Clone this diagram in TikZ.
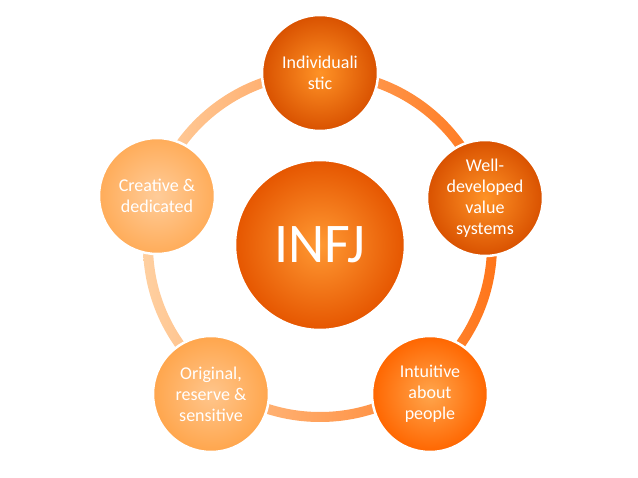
\documentclass[tikz,border=0pt]{standalone}
\usepackage{fontspec}
\setmainfont{Carlito}
\begin{document}
\begin{tikzpicture}[x=1pt, y=-1pt,
  main/.style = {draw=white, line width=2.5pt, circle, minimum size=116pt, inner sep=0pt,
    text=white, align=center, font=\fontsize{18}{21}\selectfont},
  hub/.style = {draw=white, line width=2.5pt, circle, minimum size=170pt,
    text=white, font=\fontsize{56}{60}\selectfont}]
\useasboundingbox (0,0) rectangle (638,478);
\shade[left color=orange!30!white!90!orange, right color=orange!80!red!90!white, even odd rule]
  (320,245) circle (177) (320,245) circle (167);
\node[hub, inner color=orange!80!white, outer color=orange!75!red!90!black] (c) at (320,245) {INFJ};
\node[main, inner color=orange!85!white, outer color=orange!75!red!85!black] (1) at (320,73) {Individuali\\stic};
\node[main, inner color=orange!85!white, outer color=orange!75!red!85!black] (2) at (485,198) {Well-\\developed\\value\\systems};
\node[main, inner color=orange!70!white, outer color=orange!80!red] (3) at (430,394) {Intuitive\\about\\people};
\node[main, inner color=orange!45!white, outer color=orange!70!white] (4) at (211,394) {Original,\\reserve \&\\sensitive};
\node[main, inner color=orange!40!white, outer color=orange!65!white] (5) at (157,196) {Creative \&\\dedicated};
\end{tikzpicture}
\end{document}
